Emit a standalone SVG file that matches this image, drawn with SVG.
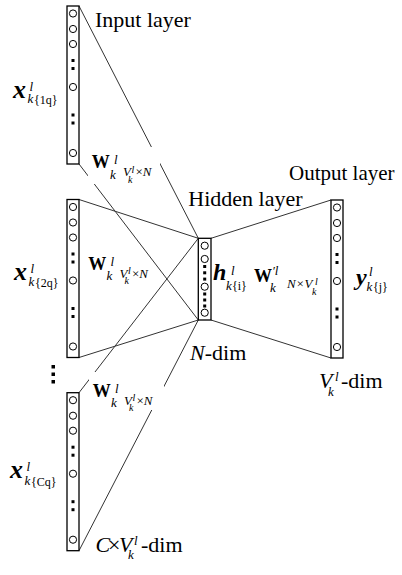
<svg xmlns="http://www.w3.org/2000/svg" xmlns:xlink="http://www.w3.org/1999/xlink" width="402" height="575" viewBox="0 0 402 575">
<style>
text{font-family:"Liberation Serif","Times New Roman",serif;fill:#000}
.t{font-size:22px}
.i{font-style:italic}
.bi{font-weight:bold;font-style:italic;font-size:24px}
.bx{font-weight:bold;font-style:italic;font-size:26px}
.s{font-size:13px;font-style:italic}
.ss{font-size:10px;font-style:italic}
.m{font-size:13px;font-style:italic}
.mu{font-size:13px}
.br{font-size:12px}
.W{font-weight:bold;font-size:18px}
.box{fill:#fff;stroke:#000;stroke-width:1.3}
.c{fill:#fff;stroke:#000;stroke-width:1}
.d{fill:#000}
.ln{stroke:#333;stroke-width:1;fill:none}
.bg{fill:#fff}
</style>
<defs>
<g id="col">
<rect class="box" x="0" y="0" width="12" height="158"/>
<circle class="c" cx="6" cy="7.5" r="3.6"/>
<circle class="c" cx="6" cy="23" r="3.6"/>
<circle class="c" cx="6" cy="38" r="3.6"/>
<rect class="d" x="4.5" y="53" width="3" height="3"/>
<rect class="d" x="4.5" y="61" width="3" height="3"/>
<circle class="c" cx="6" cy="81" r="3.6"/>
<rect class="d" x="4.5" y="107.5" width="3" height="3"/>
<rect class="d" x="4.5" y="115.5" width="3" height="3"/>
<circle class="c" cx="6" cy="147" r="3.6"/>
</g>
</defs>
<g id="connectors">
<line class="ln" x1="79" y1="6" x2="198.3" y2="238.3"/>
<line class="ln" x1="79" y1="164" x2="198.3" y2="320"/>
<line class="ln" x1="79" y1="199.5" x2="198.3" y2="238.3"/>
<line class="ln" x1="79" y1="357.5" x2="198.3" y2="320"/>
<line class="ln" x1="79" y1="392.7" x2="198.3" y2="238.3"/>
<line class="ln" x1="79" y1="550.7" x2="198.3" y2="320"/>
<line class="ln" x1="211" y1="238.3" x2="331" y2="200"/>
<line class="ln" x1="211" y1="320" x2="331" y2="358"/>
</g>
<g id="input1">
<use xlink:href="#col" href="#col" x="67" y="6"/>
<text class="bx" x="13" y="97.5">x</text>
<text class="s" x="29.5" y="90.5">l</text>
<text class="s" x="27.5" y="103">k</text>
<text class="br" x="34" y="103.5">{1q}</text>
<text class="t" x="95" y="26.7">Input layer</text>
</g>
<g id="input2">
<use xlink:href="#col" href="#col" x="67" y="199.5"/>
<text class="bx" x="14" y="280">x</text>
<text class="s" x="30.5" y="273">l</text>
<text class="s" x="28.5" y="286">k</text>
<text class="br" x="35" y="286.5">{2q}</text>
</g>
<g id="ellipsis">
<rect class="d" x="51.5" y="365" width="3.5" height="3.5"/>
<rect class="d" x="51.5" y="372.5" width="3.5" height="3.5"/>
<rect class="d" x="51.5" y="380" width="3.5" height="3.5"/>
</g>
<g id="input3">
<use xlink:href="#col" href="#col" x="67" y="392.7"/>
<text class="bx" x="10" y="478">x</text>
<text class="s" x="26.5" y="471">l</text>
<text class="s" x="24.5" y="485">k</text>
<text class="br" x="31" y="485.5">{Cq}</text>
<text class="t i" x="95.5" y="551.7">C</text>
<text class="t" x="108" y="551.7">×</text>
<text class="t i" x="119" y="551.7">V</text>
<text class="s" x="134" y="544.5">l</text>
<text class="s" x="128" y="559">k</text>
<text class="t" x="141" y="551.7">-dim</text>
</g>
<g id="w1">
<rect class="bg" x="88" y="147" width="72" height="37"/>
<text class="W" x="91.7" y="168.3">W</text>
<text class="s" x="114" y="164">l</text>
<text class="s" x="110" y="178.5">k</text>
<text class="m" x="123" y="176">V</text>
<text class="ss" x="131.5" y="172.5">l</text>
<text class="ss" x="128" y="182.5">k</text>
<text class="mu" x="135.5" y="176">×<tspan class="m">N</tspan></text>
</g>
<g id="w2">
<text class="W" x="88.3" y="270">W</text>
<text class="s" x="110.5" y="266">l</text>
<text class="s" x="106.5" y="280">k</text>
<text class="m" x="119.5" y="277.7">V</text>
<text class="ss" x="128" y="274.2">l</text>
<text class="ss" x="124.5" y="284.2">k</text>
<text class="mu" x="132" y="277.7">×<tspan class="m">N</tspan></text>
</g>
<g id="w3">
<rect class="bg" x="89" y="372" width="75" height="38"/>
<text class="W" x="92.7" y="396.7">W</text>
<text class="s" x="115" y="392.5">l</text>
<text class="s" x="111" y="406.7">k</text>
<text class="m" x="124" y="404.5">V</text>
<text class="ss" x="132.5" y="401">l</text>
<text class="ss" x="129" y="411">k</text>
<text class="mu" x="136.5" y="404.5">×<tspan class="m">N</tspan></text>
</g>
<g id="hidden">
<rect class="box" x="198.3" y="238.3" width="12.7" height="81.7"/>
<circle class="c" cx="204.7" cy="245.7" r="3.6"/>
<circle class="c" cx="204.7" cy="259" r="3.6"/>
<rect class="d" x="203.2" y="265" width="3" height="3"/>
<rect class="d" x="203.2" y="271.3" width="3" height="3"/>
<rect class="d" x="203.2" y="277.6" width="3" height="3"/>
<circle class="c" cx="204.7" cy="286.7" r="3.6"/>
<rect class="d" x="203.2" y="292.5" width="3" height="3"/>
<rect class="d" x="203.2" y="298.5" width="3" height="3"/>
<rect class="d" x="203.2" y="304.5" width="3" height="3"/>
<circle class="c" cx="204.7" cy="312.7" r="3.6"/>
<text class="t" x="188.3" y="206">Hidden layer</text>
<text class="bi" x="213" y="280">h</text>
<text class="s" x="231" y="275">l</text>
<text class="s" x="226" y="290">k</text>
<text class="br" x="232" y="290">{i}</text>
<text class="t" x="190" y="360"><tspan class="i">N</tspan>-dim</text>
</g>
<g id="wprime">
<text class="W" x="254" y="281.7">W</text>
<text class="s" x="272" y="275">′l</text>
<text class="s" x="270" y="291.7">k</text>
<text class="m" x="287" y="288.3">N<tspan class="mu">×</tspan>V</text>
<text class="ss" x="315" y="284.5">l</text>
<text class="ss" x="312" y="294.5">k</text>
</g>
<g id="output">
<use xlink:href="#col" href="#col" x="331" y="200"/>
<text class="t" x="289" y="180" style="font-size:21px">Output layer</text>
<text class="bi" x="356" y="285">y</text>
<text class="s" x="369" y="276">l</text>
<text class="s" x="366.5" y="291">k</text>
<text class="br" x="373" y="291">{j}</text>
<text class="t i" x="319" y="388.3">V</text>
<text class="s" x="335" y="380.5">l</text>
<text class="s" x="328" y="395.5">k</text>
<text class="t" x="341" y="388.3">-dim</text>
</g>
</svg>
